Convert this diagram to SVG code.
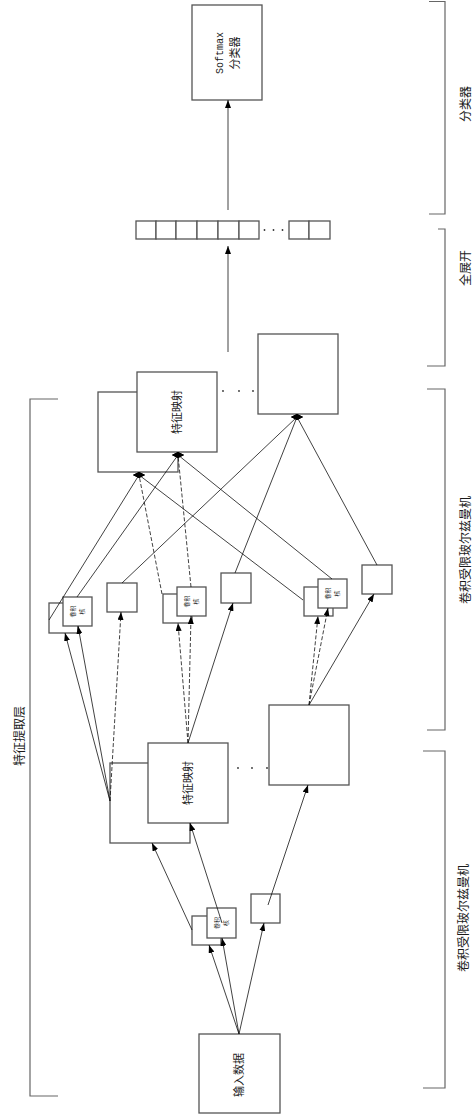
<svg xmlns="http://www.w3.org/2000/svg" width="474" height="1116" viewBox="0 0 474 1116">
<style>
.box{fill:#fff;stroke:#555;stroke-width:1.3}
.br{fill:none;stroke:#666;stroke-width:1.2}
.ln{fill:none;stroke:#111;stroke-width:0.8}
.ds{stroke-dasharray:4,2}
.ar{marker-end:url(#arrow)}
.di{marker-end:url(#dia)}
.t{font-family:"Noto Sans CJK SC",sans-serif;font-size:11px;fill:#1a1a1a;text-anchor:middle}
.tb{font-family:"Noto Sans CJK SC",sans-serif;font-size:12px;fill:#1a1a1a;text-anchor:middle}
.tk{font-family:"Noto Sans CJK SC",sans-serif;font-size:6px;fill:#222;text-anchor:middle}
.tm{font-family:"Liberation Mono",monospace;font-size:10px;fill:#222;text-anchor:middle}
.dot{fill:#333}
</style>
<defs>
<marker id="arrow" markerUnits="userSpaceOnUse" markerWidth="8" markerHeight="6" refX="8" refY="3" orient="auto"><path d="M0,0 L8,3 L0,6 z" fill="#000"/></marker>
<marker id="dia" markerUnits="userSpaceOnUse" markerWidth="12" markerHeight="6" refX="6" refY="3" orient="0"><path d="M0,3 L6,0 L12,3 L6,6 z" fill="#000"/></marker>
</defs>

<g id="brackets">
<path class="br" d="M429,1.5 H445 V214 H429"/>
<path class="br" d="M438,229 H445 V366 H427"/>
<path class="br" d="M427,389 H445 V730 H427"/>
<path class="br" d="M423,751 H445 V1088 H423"/>
<path class="br" d="M58,399 H30 V1096 H58"/>
<text class="tb" transform="translate(465,104) rotate(-90)" y="4.5">分类器</text>
<text class="tb" transform="translate(465,268) rotate(-90)" y="4.5">全展开</text>
<text class="tb" transform="translate(465,550) rotate(-90)" y="4.5">卷积受限玻尔兹曼机</text>
<text class="tb" transform="translate(463,918) rotate(-90)" y="4.5">卷积受限玻尔兹曼机</text>
<text class="tb" transform="translate(19,736) rotate(-90)" y="4.5">特征提取层</text>
</g>

<g id="softmax">
<rect class="box" x="192" y="5" width="70" height="95"/>
<text transform="translate(227,53) rotate(-90)"><tspan class="tm" x="0" y="-4">Softmax</tspan><tspan class="t" x="0" y="12">分类器</tspan></text>
</g>

<g id="flatten">
<rect class="box" x="136" y="221" width="20" height="18"/>
<rect class="box" x="156" y="221" width="20" height="18"/>
<rect class="box" x="176" y="221" width="21" height="18"/>
<rect class="box" x="197" y="221" width="21" height="18"/>
<rect class="box" x="218" y="221" width="21" height="18"/>
<rect class="box" x="239" y="221" width="20" height="18"/>
<circle class="dot" cx="264.5" cy="230" r="0.9"/>
<circle class="dot" cx="273.5" cy="230" r="0.9"/>
<circle class="dot" cx="282.5" cy="230" r="0.9"/>
<rect class="box" x="289" y="221" width="20" height="18"/>
<rect class="box" x="309" y="221" width="21" height="18"/>
</g>

<g id="fm-upper-1">
<rect class="box" x="98" y="392" width="80" height="80"/>
<rect class="box" x="137" y="372" width="80" height="80"/>
<text class="t" transform="translate(177,412) rotate(-90)" y="4">特征映射</text>
</g>
<g id="fm-upper-dots">
<circle class="dot" cx="223" cy="391" r="0.9"/>
<circle class="dot" cx="239" cy="391" r="0.9"/>
<circle class="dot" cx="253" cy="391" r="0.9"/>
</g>
<g id="fm-upper-2">
<rect class="box" x="258" y="334" width="80" height="80"/>
</g>

<g id="kernel-u1">
<rect class="box" x="49" y="603" width="29" height="30"/>
<rect class="box" x="63" y="597" width="29" height="29"/>
<text class="tk" transform="translate(77.5,611.5) rotate(-90)"><tspan x="0" y="-3">卷积</tspan><tspan x="0" y="6.5">核</tspan></text>
</g>
<g id="square-u1"><rect class="box" x="107" y="583" width="30" height="29"/></g>
<g id="kernel-u2">
<rect class="box" x="163" y="594" width="29" height="29"/>
<rect class="box" x="177" y="587" width="29" height="29"/>
<text class="tk" transform="translate(191.5,601.5) rotate(-90)"><tspan x="0" y="-3">卷积</tspan><tspan x="0" y="6.5">核</tspan></text>
</g>
<g id="square-u2"><rect class="box" x="221" y="573" width="30" height="30"/></g>
<g id="kernel-u3">
<rect class="box" x="304" y="587" width="29" height="29"/>
<rect class="box" x="318" y="579" width="29" height="29"/>
<text class="tk" transform="translate(332.5,593.5) rotate(-90)"><tspan x="0" y="-3">卷积</tspan><tspan x="0" y="6.5">核</tspan></text>
</g>
<g id="square-u3"><rect class="box" x="362" y="565" width="30" height="29"/></g>

<g id="fm-lower-1">
<rect class="box" x="110" y="763" width="80" height="80"/>
<rect class="box" x="148" y="743" width="80" height="80"/>
<text class="t" transform="translate(188,783) rotate(-90)" y="4">特征映射</text>
</g>
<g id="fm-lower-dots">
<circle class="dot" cx="238" cy="768" r="0.9"/>
<circle class="dot" cx="252" cy="768" r="0.9"/>
<circle class="dot" cx="267" cy="768" r="0.9"/>
</g>
<g id="fm-lower-2">
<rect class="box" x="269" y="705" width="80" height="80"/>
</g>

<g id="kernel-l1">
<rect class="box" x="192" y="916" width="29" height="29"/>
<rect class="box" x="207" y="908" width="29" height="30"/>
<text class="tk" transform="translate(221.5,923) rotate(-90)"><tspan x="0" y="-3">卷积</tspan><tspan x="0" y="6.5">核</tspan></text>
</g>
<g id="square-l1"><rect class="box" x="251" y="894" width="29" height="29"/></g>

<g id="input">
<rect class="box" x="199" y="1034" width="81" height="79"/>
<text class="t" transform="translate(239,1075) rotate(-90)" y="4">输入数据</text>
</g>

<g id="connectors">
<path class="ln ar" d="M228,210 L228,100"/>
<path class="ln ar" d="M228,352 L228,246"/>

<path class="ln di" d="M49,620 L139,475"/>
<path class="ln di" d="M77,597 L178,455"/>
<path class="ln ds di" d="M162,594 L139,475"/>
<path class="ln ds di" d="M191,587 L178,455"/>
<path class="ln di" d="M303,600 L139,475"/>
<path class="ln di" d="M332,579 L178,455"/>
<path class="ln di" d="M122,583 L297,417"/>
<path class="ln di" d="M235,573 L297,417"/>
<path class="ln di" d="M377,565 L297,417"/>

<path class="ln ar" d="M110,801 L65,633"/>
<path class="ln ar" d="M110,801 L78,626"/>
<path class="ln ds ar" d="M110,801 L121,612"/>
<path class="ln ds ar" d="M188,743 L178,623"/>
<path class="ln ds ar" d="M188,743 L191,616"/>
<path class="ln ar" d="M188,743 L233,603"/>
<path class="ln ds ar" d="M309,705 L318,616"/>
<path class="ln ds ar" d="M309,705 L328,608"/>
<path class="ln ar" d="M309,705 L374,594"/>

<path class="ln ar" d="M192,930 L152,843"/>
<path class="ln ar" d="M222,923 L190,823"/>
<path class="ln ar" d="M268,905 L308,785"/>

<path class="ln ar" d="M239,1034 L209,945"/>
<path class="ln ar" d="M239,1034 L222,938"/>
<path class="ln ar" d="M239,1034 L264,923"/>
</g>
</svg>
